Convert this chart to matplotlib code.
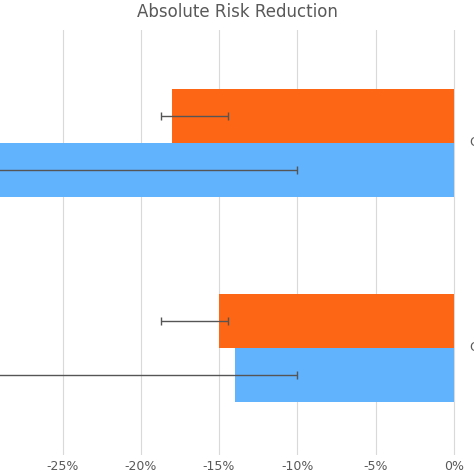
import numpy as np
import matplotlib.pyplot as plt

categories = ["Cohort B", "Cohort A"]  # bottom, top
orange_vals = [-0.15, -0.18]
orange_lo = [-0.187, -0.187]
orange_hi = [-0.144, -0.144]
blue_vals = [-0.14, -0.30]
blue_lo = [-0.40, -0.40]
blue_hi = [-0.10, -0.10]

fig = plt.figure(figsize=(4.74, 4.74), dpi=100)
ax = fig.add_axes([0, 19/474, 460/474, 425/474])

y = np.arange(len(categories))
h = 0.263
c_or = "#fc6614"
c_bl = "#62b3fd"
ax.barh(y + h/2, orange_vals, height=h, color=c_or, zorder=2)
ax.barh(y - h/2, blue_vals, height=h, color=c_bl, zorder=2)

ov = np.array(orange_vals)
bv = np.array(blue_vals)
ax.errorbar(ov, y + h/2, xerr=[ov - np.array(orange_lo), np.array(orange_hi) - ov],
            fmt="none", ecolor="#555555", elinewidth=1, capsize=3, zorder=3)
ax.errorbar(bv, y - h/2, xerr=[bv - np.array(blue_lo), np.array(blue_hi) - bv],
            fmt="none", ecolor="#555555", elinewidth=1, capsize=3, zorder=3)

ax.set_xlim(-0.290, 0.004)
ax.set_ylim(-0.522, 1.551)
ticks = [-0.25, -0.20, -0.15, -0.10, -0.05, 0.0]
ax.set_xticks(ticks)
ax.set_xticklabels(["-25%", "-20%", "-15%", "-10%", "-5%", "0%"], color="#595959", fontsize=9)
ax.grid(axis="x", color="#d9d9d9", linewidth=0.8, zorder=0)
ax.tick_params(length=0)
ax.set_yticks([])
for s in ax.spines.values():
    s.set_visible(False)

for yi, lab in zip(y, categories):
    ax.text(1.0 + 10/460, yi, lab, transform=ax.get_yaxis_transform(),
            va="center", ha="left", color="#595959", fontsize=9, clip_on=False)

fig.text(0.5, 1 - 12/474, "Absolute Risk Reduction", ha="center", va="center",
         fontsize=12, color="#595959")

fig.savefig("out.png", dpi=100)
